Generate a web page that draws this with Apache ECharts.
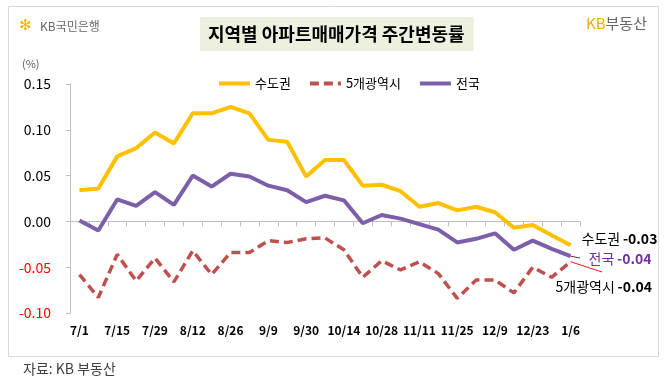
<!DOCTYPE html>
<html>
<head>
<meta charset="utf-8">
<script src="https://cdn.jsdelivr.net/npm/echarts@6/dist/echarts.min.js"></script>
<style>
html,body{margin:0;padding:0;background:#fff;}
#chart{width:670px;height:383px;}
</style>
</head>
<body>
<div id="chart"></div>
<script>
const categories = ['7/1','7/8','7/15','7/22','7/29','8/5','8/12','8/19','8/26','9/2','9/9','9/23','9/30','10/7','10/14','10/21','10/28','11/4','11/11','11/18','11/25','12/2','12/9','12/16','12/23','12/30','1/6'];
const capitalArea = [0.034,0.036,0.071,0.080,0.097,0.085,0.118,0.118,0.125,0.118,0.089,0.087,0.049,0.067,0.067,0.039,0.040,0.033,0.016,0.020,0.012,0.016,0.010,-0.007,-0.004,-0.015,-0.026];
const fiveMetros = [-0.058,-0.083,-0.036,-0.065,-0.040,-0.066,-0.032,-0.058,-0.034,-0.034,-0.021,-0.023,-0.019,-0.018,-0.031,-0.061,-0.043,-0.053,-0.044,-0.057,-0.084,-0.064,-0.064,-0.078,-0.050,-0.061,-0.044];
const nationwide = [0.001,-0.010,0.024,0.017,0.032,0.018,0.050,0.038,0.052,0.049,0.039,0.034,0.021,0.028,0.023,-0.002,0.007,0.003,-0.003,-0.009,-0.023,-0.019,-0.013,-0.031,-0.021,-0.030,-0.038];
const seriesNames = ['수도권','5개광역시','전국'];
const titleText = '지역별 아파트매매가격 주간변동률';

const FONT = '"Noto Sans CJK KR", "Noto Sans", sans-serif';
const chart = echarts.init(document.getElementById('chart'), null, {renderer:'canvas'});
const last = categories.length - 1;

function endFmt(p){ return '{n|' + p.seriesName + '} {v|' + Number(p.value).toFixed(2) + '}'; }

const option = {
  backgroundColor:'#fff',
  animation:false,
  textStyle:{fontFamily:FONT},
  title:{
    text:titleText,
    left:200, top:17,
    backgroundColor:'#EBF1DE',
    padding:[7,9,7,8],
    textStyle:{fontFamily:FONT,fontSize:18,fontWeight:'bold',color:'#000',lineHeight:20}
  },
  legend:{
    left:212, top:72,
    itemWidth:31, itemHeight:4, itemGap:17,
    itemStyle:{opacity:0},
    lineStyle:{width:4},
    textStyle:{fontFamily:FONT,fontSize:13,color:'#000'},
    data:seriesNames
  },
  grid:{left:70,right:90,top:84,bottom:70,containLabel:false},
  xAxis:[
    {type:'category',data:categories,position:'bottom',boundaryGap:true,
     axisLine:{show:false,onZero:false},axisTick:{show:false},
     axisLabel:{interval:1,margin:11,fontFamily:FONT,fontSize:12,fontWeight:'bold',color:'#000'}},
    {type:'category',data:categories,position:'top',boundaryGap:true,
     axisLine:{show:true,onZero:true,lineStyle:{color:'#BFBFBF',width:1}},
     axisTick:{show:true,inside:true,length:5,interval:0,lineStyle:{color:'#BFBFBF'}},
     axisLabel:{show:false},splitLine:{show:false}}
  ],
  yAxis:{
    type:'value',min:-0.1,max:0.15,interval:0.05,
    axisLine:{show:true,lineStyle:{color:'#BFBFBF',width:1}},
    axisTick:{show:true,length:4,lineStyle:{color:'#BFBFBF'}},
    splitLine:{show:false},
    axisLabel:{margin:19,fontFamily:FONT,fontSize:14,
      formatter:v=>v.toFixed(2),
      color:v=>(v<0?'#FF0000':'#000')}
  },
  series:[
    {name:seriesNames[0],type:'line',data:capitalArea,symbol:'none',xAxisIndex:0,
     color:'#FFC000',lineStyle:{color:'#FFC000',width:4},z:3,
     endLabel:{show:true,formatter:endFmt,offset:[3,-7],
       rich:{n:{fontFamily:FONT,fontSize:14,color:'#000'},v:{fontFamily:FONT,fontSize:14,fontWeight:'bold',color:'#000'}}}},
    {name:seriesNames[1],type:'line',data:fiveMetros,symbol:'none',xAxisIndex:0,
     color:'#C0504D',lineStyle:{color:'#C0504D',width:3.5,type:[9,5],cap:'butt'},z:2,
     endLabel:{show:true,formatter:endFmt,offset:[-23,25],
       rich:{n:{fontFamily:FONT,fontSize:14,color:'#000'},v:{fontFamily:FONT,fontSize:14,fontWeight:'bold',color:'#000'}}},
     markLine:{silent:true,symbol:['none','none'],animation:false,label:{show:false},
       lineStyle:{color:'#E0201B',width:1,type:'solid'},
       data:[[{coord:[categories[last],fiveMetros[last]]},{x:602,y:272}]]}},
    {name:seriesNames[2],type:'line',data:nationwide,symbol:'none',xAxisIndex:0,
     color:'#8064A2',lineStyle:{color:'#7B5FA8',width:4},z:4,
     endLabel:{show:true,formatter:endFmt,offset:[10,2],
       rich:{n:{fontFamily:FONT,fontSize:14,color:'#7030A0'},v:{fontFamily:FONT,fontSize:14,fontWeight:'bold',color:'#7030A0'}}},
     markLine:{silent:true,symbol:['none','none'],animation:false,label:{show:false},
       lineStyle:{color:'#404040',width:1,type:'solid'},
       data:[[{coord:[categories[last],nationwide[last]]},{x:580,y:258}]]}}
  ],
  graphic:[
    {type:'rect',shape:{x:8.5,y:6.5,width:650,height:350},style:{fill:'none',stroke:'#D9D9D9',lineWidth:1},z:-1},
    {type:'text',left:19,top:19,style:{text:'✻',fontSize:15,fill:'#F5B400',fontFamily:'DejaVu Sans'}},
    {type:'text',left:40,top:20,style:{text:'KB국민은행',fontSize:12,fill:'#666',fontFamily:FONT}},
    {type:'text',left:586,top:16,style:{text:'{a|KB}{b|부동산}',rich:{a:{fontSize:15,fill:'#F5A800',fontFamily:FONT},b:{fontSize:15,fill:'#666',fontFamily:FONT}}}},
    {type:'text',left:22,top:58,style:{text:'(%)',fontSize:11,fill:'#595959',fontFamily:FONT}},
    {type:'text',left:23,top:362,style:{text:'자료: KB 부동산',fontSize:14,fill:'#404040',fontFamily:FONT}}
  ]
};
chart.setOption(option);
</script>
</body>
</html>
